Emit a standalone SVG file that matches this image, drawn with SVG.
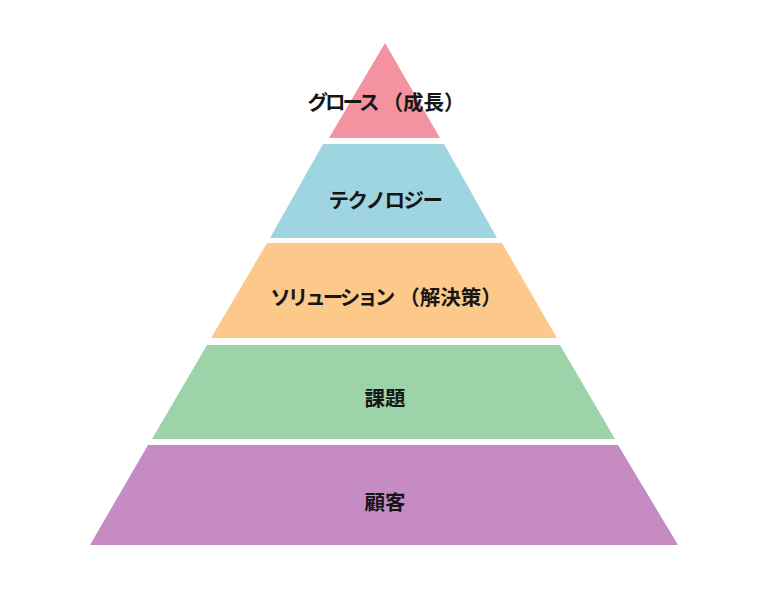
<svg xmlns="http://www.w3.org/2000/svg" width="768" height="589" viewBox="0 0 768 589">
<style>
.lbl{font-family:"Noto Sans CJK JP","Noto Sans",sans-serif;font-weight:bold;font-size:20.5px;fill:#161616;text-anchor:middle}
.kana{letter-spacing:-3px}
</style>
<rect width="768" height="589" fill="#ffffff"/>
<g id="growth">
<polygon points="385,43 440,138 329,138" fill="#f3939f"/>
<text class="lbl" x="386" y="110"><tspan class="kana">グロース</tspan><tspan dx="6">（成長）</tspan></text>
</g>
<g id="technology">
<polygon points="323,144 444,144 497,238 270,238" fill="#9ed5e0"/>
<text class="lbl" x="385" y="208" letter-spacing="-1.5">テクノロジー</text>
</g>
<g id="solution">
<polygon points="267,243 502,243 557,338 211,338" fill="#fdc98b"/>
<text class="lbl" x="386" y="305"><tspan class="kana">ソリューション</tspan><tspan dx="7">（解決策）</tspan></text>
</g>
<g id="issue">
<polygon points="207,345 560,345 615,439 152,439" fill="#9dd3a9"/>
<text class="lbl" x="385" y="406" font-size="22">課題</text>
</g>
<g id="customer">
<polygon points="148,445 618,445 678,545 90,545" fill="#c68bc3"/>
<text class="lbl" x="385" y="510" font-size="22">顧客</text>
</g>
<g id="connectors"/>
</svg>
